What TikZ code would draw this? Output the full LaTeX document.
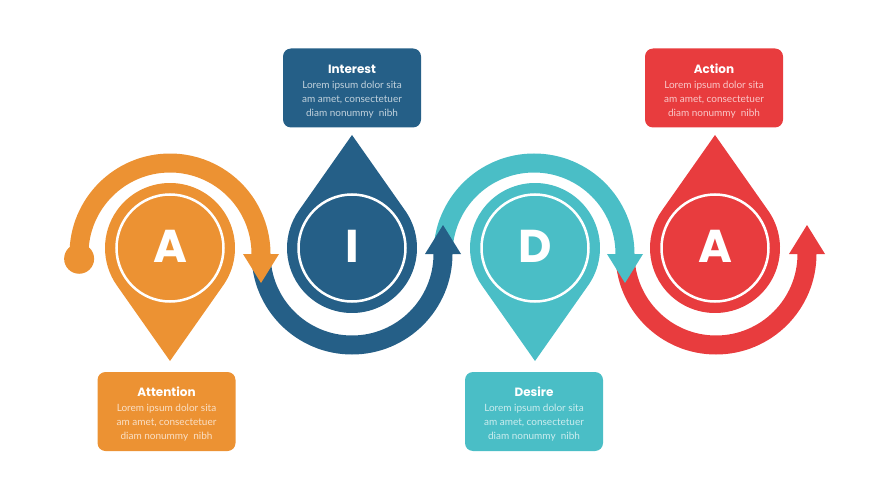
\documentclass[tikz,border=0pt]{standalone}
\usepackage{fontspec}
\setmainfont{Lato}
\newfontfamily\titlefont{Poppins}
\definecolor{cOrange}{HTML}{EC9233}
\definecolor{cBlue}{HTML}{255F87}
\definecolor{cTeal}{HTML}{4ABEC6}
\definecolor{cRed}{HTML}{E83C3E}
\begin{document}
\begin{tikzpicture}[x=1pt,y=-1pt]
\useasboundingbox (0,0) rectangle (889,500);
\tikzset{
  band/.style={line width=19pt},
  ring/.style={draw=white, line width=2.5pt},
  letter/.style={text=white, inner sep=0pt, font=\titlefont\bfseries\fontsize{46}{46}\selectfont},
  infobox/.style={rounded corners=8pt, minimum width=138pt, minimum height=79pt, inner sep=0pt},
  boxtitle/.style={text=white, inner sep=0pt, font=\titlefont\bfseries\fontsize{12}{14}\selectfont},
  boxbody/.style={inner sep=0pt, align=center, font=\fontsize{10}{14}\selectfont},
}
\newcommand\ArrDown[2]{\fill[#2] (#1-18,254) -- (#1+18,254) -- (#1,283) -- cycle;}
\newcommand\ArrUp[2]{\fill[#2] (#1-18,254) -- (#1+18,254) -- (#1,225) -- cycle;}
% arcs (drawn back to front)
\draw[band,cRed] (625,254) arc[start angle=180,end angle=0,radius=91];
\ArrUp{807}{cRed}
\draw[band,cTeal] (443,254) arc[start angle=180,end angle=360,radius=91];
\ArrDown{625}{cTeal}
\draw[band,cBlue] (261,254) arc[start angle=180,end angle=0,radius=91];
\ArrUp{443}{cBlue}
\draw[band,cOrange] ([shift={(177:91)}]170,254) arc[start angle=177,end angle=360,radius=91];
\fill[cOrange] ([shift={(177:91)}]170,254) circle[radius=15];
\ArrDown{261}{cOrange}
% pins
\fill[cOrange] (170,361) -- ([shift={(35.12:65)}]170,248) arc[start angle=35.12,end angle=-215.12,radius=65] -- cycle;
\fill[cBlue] (352,135) -- ([shift={(-35.12:65)}]352,248) arc[start angle=-35.12,end angle=215.12,radius=65] -- cycle;
\fill[cTeal] (535,361) -- ([shift={(35.12:65)}]535,248) arc[start angle=35.12,end angle=-215.12,radius=65] -- cycle;
\fill[cRed] (715,135) -- ([shift={(-35.12:65)}]715,248) arc[start angle=-35.12,end angle=215.12,radius=65] -- cycle;
\foreach \cx in {170,352,535,715} { \draw[ring] (\cx,248) circle[radius=53.5]; }
\node[letter] (l1) at (170,246) {A};
\node[letter] (l2) at (352,246) {I};
\node[letter] (l3) at (535,246) {D};
\node[letter] (l4) at (715,246) {A};
% boxes
\node[infobox, fill=cOrange] (b1) at (166.5,411.5) {};
\node[infobox, fill=cBlue] (b2) at (352,88) {};
\node[infobox, fill=cTeal] (b3) at (534,411.5) {};
\node[infobox, fill=cRed] (b4) at (714,88) {};
\node[boxtitle] (t1) at (166.5,392) {Attention};
\node[boxtitle] (t2) at (352,69) {Interest};
\node[boxtitle] (t3) at (534,392) {Desire};
\node[boxtitle] (t4) at (714,69) {Action};
\node[boxbody, text=white!72!cOrange] (d1) at (166.5,423) {Lorem ipsum dolor sita\\am amet, consectetuer\\diam nonummy\ \ nibh};
\node[boxbody, text=white!72!cBlue] (d2) at (352,100) {Lorem ipsum dolor sita\\am amet, consectetuer\\diam nonummy\ \ nibh};
\node[boxbody, text=white!72!cTeal] (d3) at (534,423) {Lorem ipsum dolor sita\\am amet, consectetuer\\diam nonummy\ \ nibh};
\node[boxbody, text=white!72!cRed] (d4) at (714,100) {Lorem ipsum dolor sita\\am amet, consectetuer\\diam nonummy\ \ nibh};
\end{tikzpicture}
\end{document}
